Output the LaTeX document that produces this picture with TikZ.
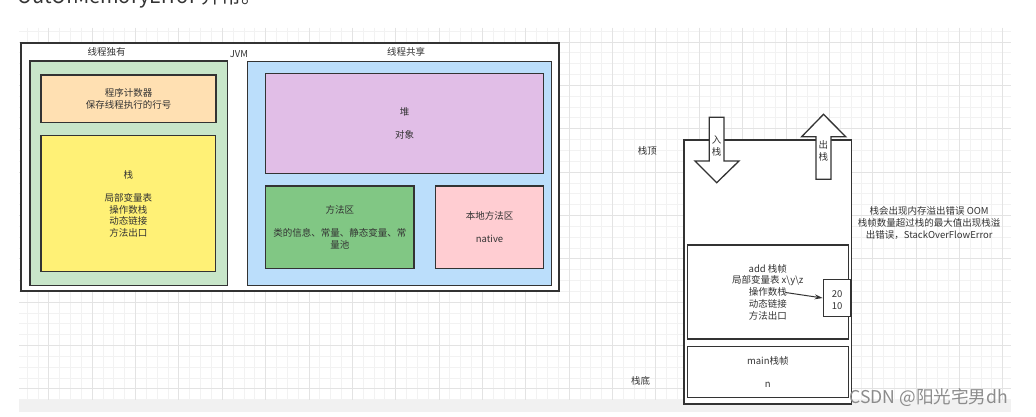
\documentclass[tikz,border=0pt]{standalone}
\usepackage{fontspec}
\setmainfont{Noto Sans CJK SC}
\definecolor{colorLine}{HTML}{333333}
\definecolor{colorText}{HTML}{333333}
\definecolor{colorGridMinor}{HTML}{F2F2F2}
\definecolor{colorGridMajor}{HTML}{E3E3E3}
\definecolor{colorBand}{HTML}{F1F1F1}
\definecolor{colorPrivate}{HTML}{C8E6C9}
\definecolor{colorCounter}{HTML}{FFE0B2}
\definecolor{colorStack}{HTML}{FFF176}
\definecolor{colorShared}{HTML}{BBDEFB}
\definecolor{colorHeap}{HTML}{E1BEE7}
\definecolor{colorMethod}{HTML}{81C784}
\definecolor{colorNative}{HTML}{FFCDD2}
\usetikzlibrary{arrows.meta}

\begin{document}
\begin{tikzpicture}[x=1pt, y=-1pt, >={Stealth[length=8pt, width=5pt]}, text=colorText, font=\fontsize{9.5}{11.7}\selectfont, every node/.append style={align=center}, area/.style={rectangle, draw=colorLine, line width=1.3pt, inner sep=0pt}]
\useasboundingbox (0,0) rectangle (1036,417);
\fill[white] (0,0) rectangle (1036,417);
\fill[colorBand] (19,400) rectangle (1011,412);
\foreach \i in {0,...,90} \draw[colorGridMinor, line width=0.6pt] ({27.02+\i*10.84},28) -- ({27.02+\i*10.84},400);
\foreach \i in {0,...,34} \draw[colorGridMinor, line width=0.6pt] (19,{31.06+\i*10.84}) -- (1011,{31.06+\i*10.84});
\foreach \i in {0,...,22} \draw[colorGridMajor, line width=0.6pt] ({48.7+\i*43.36},28) -- ({48.7+\i*43.36},400);
\foreach \i in {0,...,8} \draw[colorGridMajor, line width=0.6pt] (19,{41.9+\i*43.36}) -- (1011,{41.9+\i*43.36});
\node[anchor=base west, inner sep=0pt, font=\fontsize{20}{24}\selectfont] (oomtext) at (17,3.5) {OutOfMemoryError 异常。};

% JVM
\node[area, line width=1.8pt, fill=white, minimum width=538pt, minimum height=248pt] (jvm) at (290,167) {};
\node (jvmlabel) at (239,54) {JVM};
\node (privlabel) at (106.7,51.7) {线程独有};
\node (sharedlabel) at (406,51.7) {线程共享};
\node[area, fill=colorPrivate, minimum width=197.3pt, minimum height=224.3pt] (private) at (128.65,173.15) {};
\node[area, fill=colorCounter, minimum width=175pt, minimum height=47.7pt] (counter) at (128.5,98.85) {程序计数器\\保存线程执行的行号};
\node[area, fill=colorStack, minimum width=174.7pt, minimum height=136pt] (stack) at (128.35,203.7) {栈\\[11.7pt]局部变量表\\操作数栈\\动态链接\\方法出口};
\node[area, fill=colorShared, minimum width=304.4pt, minimum height=224pt] (shared) at (399.5,173.7) {};
\node[area, fill=colorHeap, minimum width=277.6pt, minimum height=100pt] (heap) at (404.5,123.3) {堆\\[11.7pt]对象};
\node[area, fill=colorMethod, minimum width=148.3pt, minimum height=82.3pt] (method) at (339.85,227.15) {方法区\\[11.7pt]类的信息、常量、静态变量、常\\量池};
\node[area, fill=colorNative, minimum width=107.6pt, minimum height=82.3pt] (native) at (489.5,227.15) {本地方法区\\[11.7pt]native};

% stack frames
\node (stacktop) at (647.3,151) {栈顶};
\node (stackbottom) at (640.7,381) {栈底};
\node[area, fill=white, minimum width=167.7pt, minimum height=264pt] (frames) at (767.85,272) {};
\node[area, minimum width=161pt, minimum height=94pt] (addframe) at (767.8,292) {add 栈帧\\局部变量表 x\textbackslash y\textbackslash z\\操作数栈\\动态链接\\方法出口};
\node[area, minimum width=161pt, minimum height=50.6pt] (mainframe) at (767.8,372) {main栈帧\\[11.7pt]n};
\node[area, fill=white, minimum width=27.7pt, minimum height=37.4pt] (opstack) at (837.15,298) {\mbox{}\\20\\10};
\coordinate (opsource) at (785.5,292.5);
\draw [->, colorLine, line width=1pt] (opsource) -- (opstack.west);
\draw[colorLine, line width=1.3pt, fill=white] (709.3,117.3) -- (724,117.3) -- (724,161) -- (739,161) -- (716.7,182.7) -- (695,161) -- (709.3,161) -- cycle;
\node (push) at (716.7,146) {入\\栈};
\draw[colorLine, line width=1.3pt, fill=white] (816,179.3) -- (831,179.3) -- (831,136.7) -- (845.7,136.7) -- (823.5,114.3) -- (801.7,136.7) -- (816,136.7) -- cycle;
\node (pop) at (823.3,150.9) {出\\栈};
\node (oomnote) at (929.2,223.1) {栈会出现内存溢出错误 OOM\\栈帧数量超过栈的最大值出现栈溢\\出错误，StackOverFlowError};
\node[anchor=west, inner sep=0pt, text=black!45, font=\fontsize{17.6}{20}\selectfont] (mark) at (849.3,398) {CSDN @阳光宅男dh};
\end{tikzpicture}
\end{document}
